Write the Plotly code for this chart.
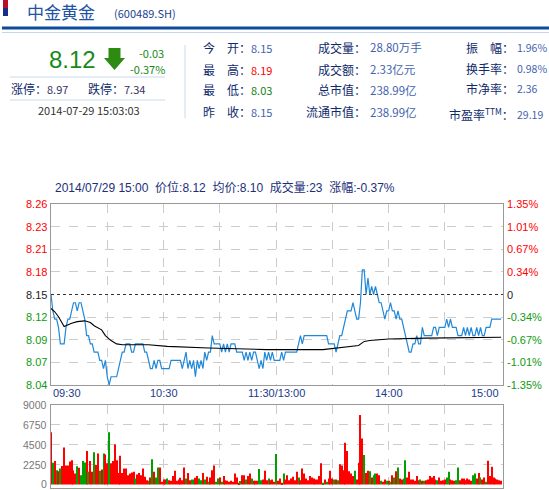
import plotly.graph_objects as go

W, H = 549, 490

# ---- data ----
prev_close = 8.15

price = [
    8.15, 8.13, 8.12, 8.12, 8.11, 8.09, 8.09, 8.09, 8.11, 8.12,
    8.12, 8.13, 8.14, 8.14, 8.13, 8.14, 8.14, 8.13, 8.12, 8.10,
    8.10, 8.09, 8.09, 8.08, 8.08, 8.08, 8.07, 8.07, 8.06, 8.07,
    8.05, 8.04, 8.05, 8.05, 8.05, 8.05, 8.06, 8.07, 8.08, 8.08,
    8.09, 8.09, 8.09, 8.08, 8.08, 8.09, 8.09, 8.09, 8.09, 8.09,
    8.08, 8.08, 8.07, 8.06, 8.06, 8.07, 8.06, 8.07, 8.07, 8.06,
    8.06, 8.06, 8.06, 8.06, 8.07, 8.07, 8.07, 8.07, 8.07, 8.07,
    8.06, 8.07, 8.08, 8.06, 8.07, 8.06, 8.07, 8.05, 8.07, 8.06,
    8.07, 8.06, 8.08, 8.07, 8.08, 8.08, 8.10, 8.09, 8.09, 8.09,
    8.09, 8.08, 8.09, 8.08, 8.09, 8.08, 8.09, 8.09, 8.09, 8.08,
    8.08, 8.08, 8.08, 8.07, 8.08, 8.07, 8.08, 8.07, 8.08, 8.08,
    8.07, 8.06, 8.07, 8.06, 8.08, 8.07, 8.08, 8.07, 8.08, 8.07,
    8.07, 8.07, 8.07, 8.08, 8.07, 8.08, 8.08, 8.08, 8.08, 8.08,
    8.08, 8.08, 8.09, 8.10, 8.09, 8.10, 8.10, 8.10, 8.10, 8.10,
    8.10, 8.10, 8.10, 8.10, 8.10, 8.10, 8.10, 8.10, 8.09, 8.09,
    8.09, 8.09, 8.08, 8.09, 8.10, 8.10, 8.11, 8.12, 8.13, 8.13,
    8.13, 8.14, 8.13, 8.12, 8.12, 8.14, 8.18, 8.18, 8.15, 8.17,
    8.15, 8.16, 8.15, 8.16, 8.15, 8.14, 8.14, 8.13, 8.12, 8.13,
    8.13, 8.14, 8.13, 8.13, 8.12, 8.13, 8.12, 8.12, 8.11, 8.10,
    8.09, 8.08, 8.08, 8.09, 8.09, 8.10, 8.09, 8.09, 8.11, 8.10,
    8.10, 8.10, 8.10, 8.10, 8.11, 8.11, 8.10, 8.11, 8.11, 8.11,
    8.11, 8.12, 8.11, 8.12, 8.11, 8.11, 8.11, 8.10, 8.10, 8.10,
    8.11, 8.10, 8.11, 8.10, 8.11, 8.10, 8.10, 8.11, 8.10, 8.11,
    8.10, 8.10, 8.11, 8.11, 8.11, 8.12, 8.12, 8.12, 8.12, 8.12,
    8.12,
]

avg_t = [0, 2, 4, 7, 11, 14, 18, 21, 23, 27, 29, 32, 35, 38, 52, 62, 84,
         115, 145, 157, 164, 167, 170, 180, 200, 240]
avg_price = [8.133, 8.129, 8.123, 8.111, 8.115, 8.117, 8.118, 8.116, 8.112,
             8.107, 8.100, 8.094, 8.090, 8.089, 8.089, 8.087, 8.085, 8.083,
             8.083, 8.086, 8.088, 8.093, 8.094, 8.096, 8.097, 8.098]

volume = [
    5900, 2450, 2650, 1600, 1500, 1800, 2100, 4200, 2150, 2150,
    2600, 2750, 1600, 1250, 2050, 1900, 1050, 2650, 2500, 3800,
    1450, 2650, 1450, 3650, 2200, 3500, 1550, 1700, 3500, 3400,
    2400, 5900, 2400, 2650, 4550, 2750, 1300, 3250, 1300, 1800,
    1800, 1050, 1250, 1350, 1450, 680, 1130, 1300, 1050, 1800,
    870, 490, 420, 800, 2870, 1450, 800, 1930, 1930,
    300, 570, 570, 680, 490, 420, 950, 1550, 420, 570,
    760, 490, 1930, 680, 1300, 490, 570, 570, 760, 950,
    680, 490, 1300, 570, 870, 300, 800, 1600, 2150,
    300, 680, 800, 300, 950, 490, 420, 300, 420, 300,
    1250, 800, 190, 380, 1050, 1050, 570, 950, 1250, 680,
    420, 420, 420, 1740, 490, 570, 1550, 490, 680, 490, 570,
    300, 3440, 420, 680, 190, 1250, 570, 1050, 490, 680,
    870, 490, 1450, 800, 490, 1800, 1250, 680, 490, 950,
    800, 680, 570, 570, 950, 2400, 190, 570, 300, 680,
    1550, 680, 570, 570, 490, 2300, 2150, 1600, 4730, 3780,
    1500, 1250, 950, 1550, 570, 2450, 7860, 5200, 3330, 1300,
    1550, 1500, 800, 1050, 1250, 1250, 1050, 420, 300, 570,
    420, 420, 300, 1050, 800, 1500, 1930, 680, 570, 680,
    2750, 800, 1450, 570, 570, 420, 950, 490, 570, 420,
    420, 490, 570, 950, 800, 950, 570, 490, 800, 420,
    490, 570, 800, 1450, 570, 490, 420, 490, 1930, 490,
    680, 680, 490, 680, 570, 420, 1050, 1250, 680, 1300,
    800, 570, 800, 300, 2680, 950, 2000, 800, 680, 570,
    490, 420,
]
# R = up tick (red), G = down tick (green)
vol_dir = (
    "RGRGRGRRRR" "RRRRGRGGGR" "GRRGRRGRGR" "RGRRRRRRRR" "RRRRRGRRRR"
    "RRGRGRGGR" "RRRGRRRRRR" "RRRGRRGGRR" "GGRGRGRRR" "GGRGRRRRRR"
    "RRRGRRGRRG" "RRRGGRRRGRR"
    "RGRRRGRRRR" "RRRGRRRRRR" "RRRRRRGRGR" "RRGRGRRRRR" "RRRGRRRRGR"
    "RGRGGRRGRR" "GRGRGRGRRG" "GRRRRRRRGR" "GRRRRRRGRR" "RRGGRRRGGR"
    "RRRRRRGGRR" "GRRGRRRRRR" "RR"
)

time_vals = [0, 60, 120, 180, 240]
time_text = ["09:30", "10:30", "11:30/13:00", "14:00", "15:00"]
grid_t = [30, 60, 90, 120, 150, 180, 210]

y_ticks = [8.26, 8.2325, 8.205, 8.1775, 8.15, 8.1225, 8.095, 8.0675, 8.04]
y_text = ["8.26", "8.23", "8.21", "8.18", "8.15", "8.12", "8.09", "8.07", "8.04"]
pct_text = ["1.35%", "1.01%", "0.67%", "0.34%", "0", "-0.34%", "-0.67%", "-1.01%", "-1.35%"]
vol_ticks = [0, 2250, 4500, 6750, 9000]

RED, GREEN, NAVY, VAL = "#ff0000", "#109a10", "#0f2a6b", "#3f62ad"
CJK = "Noto Sans CJK SC"
LAT = "Liberation Sans, Noto Sans CJK SC"


def px(x):
    return x / W


def py(y):
    return 1 - y / H


def label(x, y, s, size=12, color=NAVY, anchor="left", family=CJK):
    return dict(xref="paper", yref="paper", x=px(x), y=py(y), text=s, showarrow=False,
                xanchor=anchor, yanchor="middle", font=dict(size=size, color=color, family=family))


def hline(x0, x1, y, color, width=1):
    return dict(type="line", xref="paper", yref="paper", x0=px(x0), x1=px(x1), y0=py(y), y1=py(y),
                line=dict(color=color, width=width))


def poly(pts, color):
    d = "M " + " L ".join(f"{px(a)},{py(b)}" for a, b in pts) + " Z"
    return dict(type="path", xref="paper", yref="paper", path=d, fillcolor=color, line=dict(width=0))


def val(s, color=VAL):
    return f"<span style='color:{color};font-size:11px'>{s}</span>"


fig = go.Figure()
fig.add_trace(go.Scatter(x=list(range(len(price))), y=price, mode="lines",
                         line=dict(color="#2088d8", width=1.2), xaxis="x", yaxis="y"))
fig.add_trace(go.Scatter(x=avg_t, y=avg_price, mode="lines",
                         line=dict(color="#000000", width=1.1), xaxis="x", yaxis="y"))
fig.add_trace(go.Bar(x=list(range(len(volume))), y=volume, width=0.55,
                     marker=dict(color=[RED if c == "R" else "#00a000" for c in vol_dir], line=dict(width=0)),
                     xaxis="x2", yaxis="y2"))

ax = dict(range=[0, 241], tickvals=grid_t, showticklabels=False, showgrid=True, gridcolor="#cccccc",
          griddash="dash", gridwidth=1, showline=True, mirror=True, linecolor="#999999",
          zeroline=False, ticks="", domain=[px(51), px(503)])
fig.update_layout(
    width=W, height=H, margin=dict(l=0, r=0, t=0, b=0),
    paper_bgcolor="white", plot_bgcolor="white", showlegend=False,
    xaxis=dict(ax, anchor="y"),
    xaxis2=dict(ax, anchor="y2"),
    yaxis=dict(range=[8.04, 8.26], domain=[py(385), py(204)], tickvals=[t for t in y_ticks if t != prev_close],
               showticklabels=False, showgrid=True, gridcolor="#cccccc", griddash="dash",
               showline=True, mirror=True, linecolor="#999999", zeroline=False, ticks=""),
    yaxis2=dict(range=[-400, 9000], domain=[py(488), py(405)], tickvals=vol_ticks[1:-1],
                showticklabels=False, showgrid=True, gridcolor="#cccccc", griddash="dash",
                showline=True, mirror=True, linecolor="#999999", zeroline=False, ticks=""),
)

shapes = [
    dict(type="line", xref="x", yref="y", x0=0, x1=241, y0=prev_close, y1=prev_close,
         line=dict(color="#333333", width=1, dash="dot")),
    dict(type="rect", xref="paper", yref="paper", x0=px(3), x1=px(8), y0=py(8), y1=py(0),
         fillcolor="#b8102a", line=dict(width=0)),
    dict(type="rect", xref="paper", yref="paper", x0=px(3), x1=px(8), y0=py(16), y1=py(8),
         fillcolor="#1c2c8c", line=dict(width=0)),
    hline(2, 549, 28, "#0d4c9c", 3),
    hline(2, 549, 32.5, "#c6d6ea", 1),
    hline(10, 165, 77, "#c9d9ec", 1),
    hline(10, 165, 100, "#c9d9ec", 1),
    dict(type="line", xref="paper", yref="paper", x0=px(185), x1=px(185), y0=py(45), y1=py(118),
         line=dict(color="#c9d9ec", width=1)),
    poly([(108.5, 48), (120.5, 48), (120.5, 58), (125, 58), (114.5, 70), (104, 58), (108.5, 58)], "#2e8b12"),
]

ann = [
    label(25, 11, "中金黄金", 17, "#2253a3"),
    label(112, 13, "(600489.SH)", 11, "#1a3f8f"),
    label(98, 59, "8.12", 24, "#188a18", "right", LAT),
    label(166, 53, "-0.03", 11, "#188a18", "right"),
    label(167, 69, "-0.37%", 11, "#188a18", "right"),
    label(9, 89, "涨停：" + val("8.97", "#333366"), 12),
    label(86, 89, "跌停：" + val("7.34", "#333366"), 12),
    label(89, 110, "2014-07-29 15:03:03", 11, "#333333", "center"),
    label(201, 48, "今　开：" + val("8.15"), 12),
    label(201, 69, "最　高：" + val("8.19", RED), 12),
    label(201, 90, "最　低：" + val("8.03", "#108010"), 12),
    label(201, 112, "昨　收：" + val("8.15"), 12),
    label(53, 188, "2014/07/29 15:00  价位:8.12  均价:8.10  成交量:23  涨幅:-0.37%", 12, "#1b2f78", "left", LAT),
]

col2 = [("成交量：", "28.80万手", 47), ("成交额：", "2.33亿元", 69),
        ("总市值：", "238.99亿", 90), ("流通市值：", "238.99亿", 112)]
for lab, v, y in col2:
    ann.append(label(368, y, lab, 12, NAVY, "right"))
    ann.append(label(368, y, v, 11.5, VAL, "left"))
col3 = [("振　幅：", "1.96%", 48), ("换手率：", "0.98%", 68),
        ("市净率：", "2.36", 89), ("市盈率<sup>TTM</sup>：", "29.19", 114)]
for lab, v, y in col3:
    ann.append(label(516, y, lab, 12, NAVY, "right"))
    ann.append(label(515, y, v, 10.5, VAL, "left"))

for v, t, p in zip(y_ticks, y_text, pct_text):
    c = RED if v > prev_close else ("#222222" if v == prev_close else GREEN)
    ann.append(dict(xref="paper", yref="y", x=px(49), y=v, text=t, showarrow=False, xanchor="right",
                    yanchor="middle", font=dict(size=11, color=c, family=LAT)))
    ann.append(dict(xref="paper", yref="y", x=px(505), y=v, text=p, showarrow=False, xanchor="left",
                    yanchor="middle", font=dict(size=11, color=c, family=LAT)))

for v in vol_ticks:
    ann.append(dict(xref="paper", yref="y2", x=px(49), y=v, text=str(v), showarrow=False, xanchor="right",
                    yanchor="middle", font=dict(size=10.5, color="#777777", family=LAT)))

for i, (t, s) in enumerate(zip(time_vals, time_text)):
    anchor = "left" if i == 0 else ("right" if i == len(time_vals) - 1 else "center")
    ann.append(dict(xref="x", yref="paper", x=t, y=py(393), text=s, showarrow=False, xanchor=anchor,
                    yanchor="middle", font=dict(size=11, color="#1a3a8a", family=LAT)))

fig.update_layout(shapes=shapes, annotations=ann)
fig.write_html("out.html", config={"displayModeBar": False},
               post_script="document.body.style.margin='0';document.body.style.overflow='hidden';")
